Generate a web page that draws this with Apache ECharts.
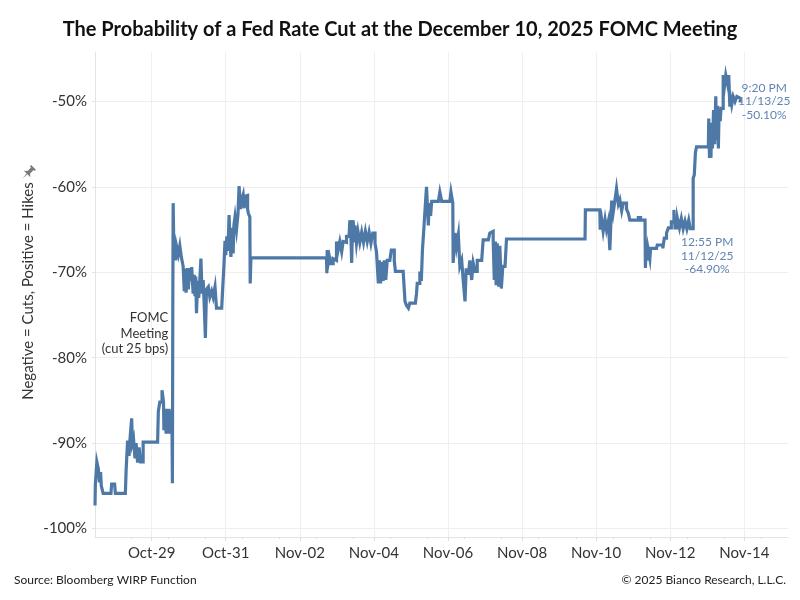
<!DOCTYPE html>
<html><head><meta charset="utf-8">
<script src="https://cdn.jsdelivr.net/npm/echarts@6.0.0/dist/echarts.min.js"></script>
<style>html,body{margin:0;padding:0;background:#fff}#chart{width:800px;height:600px}</style>
</head><body><div id="chart"></div>
<script>
// x = day number counted from Oct 1 (Oct 29 = 29, Nov 1 = 32, Nov 14 = 45), fractional part = time of day
// y = implied probability (%) of a cut at the Dec 10, 2025 FOMC (negative = cuts)
const preFomc = [
  [27.47,-97.3],[27.48,-94.8],[27.51,-94.8],[27.52,-92.2],[27.56,-93.0],[27.59,-94.6],[27.62,-93.4],[27.64,-95.0],
  [27.69,-95.9],[27.90,-95.9],[27.92,-94.8],[28.00,-94.8],[28.02,-95.9],[28.29,-95.9],[28.31,-93.2],[28.35,-89.7],
  [28.39,-91.5],[28.41,-89.8],[28.46,-87.1],[28.48,-90.0],[28.51,-89.5],[28.55,-91.8],[28.58,-90.0],[28.62,-92.3],
  [28.66,-90.5],[28.70,-92.2],[28.77,-89.9],[29.16,-89.9],[29.18,-86.3],[29.22,-85.2],[29.28,-83.8],[29.32,-85.2],
  [29.33,-88.5],[29.36,-86.0],[29.39,-88.9],[29.41,-86.0],[29.44,-88.9],[29.47,-86.0],[29.49,-88.9],[29.52,-86.2],
  [29.55,-89.0],[29.56,-94.7],[29.57,-75.0],[29.58,-61.9]
];
const postFomc = [
  [29.60,-67.5],[29.62,-66.8],[29.65,-68.6],[29.67,-66.9],[29.72,-67.9],[29.76,-66.9],[29.80,-68.2],[29.85,-69.3],
  [29.88,-72.2],[29.90,-69.6],[29.93,-72.4],[29.96,-69.5],[29.99,-72.0],[30.03,-69.5],[30.06,-71.0],[30.08,-69.4],
  [30.12,-72.5],[30.15,-70.3],[30.17,-72.8],[30.19,-70.5],[30.21,-74.8],[30.24,-71.0],[30.27,-73.0],[30.30,-70.9],
  [30.33,-68.4],[30.36,-72.5],[30.39,-70.9],[30.42,-74.0],[30.45,-77.7],[30.48,-72.0],[30.53,-71.7],[30.57,-72.9],
  [30.62,-72.2],[30.66,-72.9],[30.71,-71.7],[30.75,-74.2],[30.89,-74.2],[30.92,-71.7],[30.95,-69.3],[30.98,-66.3],
  [31.00,-68.0],[31.03,-65.8],[31.06,-67.5],[31.09,-63.3],[31.11,-66.0],[31.14,-68.2],[31.16,-64.8],[31.20,-67.8],
  [31.22,-64.5],[31.25,-63.5],[31.29,-65.0],[31.33,-63.2],[31.36,-59.9],[31.40,-62.6],[31.43,-61.5],[31.47,-60.9],
  [31.50,-62.5],[31.52,-61.1],[31.56,-61.0],[31.59,-62.6],[31.61,-63.1],[31.65,-63.5],[31.66,-71.3],[31.68,-68.3]
];
const nov03to07 = [
  [33.72,-68.3],[33.73,-70.1],[33.74,-67.4],[33.77,-68.9],[33.80,-68.2],[33.84,-69.0],[33.90,-68.4],[33.95,-68.6],
  [33.99,-66.4],[34.03,-67.5],[34.08,-66.4],[34.13,-67.6],[34.17,-66.4],[34.22,-66.5],[34.26,-65.8],[34.33,-65.8],
  [34.35,-63.9],[34.38,-66.0],[34.40,-68.9],[34.42,-65.0],[34.44,-63.9],[34.47,-66.5],[34.49,-64.5],[34.53,-66.6],
  [34.57,-65.2],[34.62,-66.5],[34.67,-65.3],[34.72,-66.5],[34.77,-65.2],[34.82,-66.4],[34.87,-65.3],[34.92,-66.6],
  [34.97,-65.4],[35.03,-66.6],[35.07,-67.6],[35.12,-71.3],[35.15,-68.6],[35.18,-71.3],[35.21,-68.8],[35.25,-71.0],
  [35.28,-68.6],[35.32,-70.9],[35.36,-68.6],[35.43,-68.6],[35.47,-67.4],[35.52,-67.4],[35.55,-68.6],[35.58,-69.9],
  [35.79,-69.9],[35.84,-73.4],[35.88,-73.9],[35.93,-74.2],[35.97,-73.6],[36.12,-73.6],[36.15,-72.5],[36.17,-71.3],
  [36.24,-69.9],[36.28,-71.0],[36.31,-67.4],[36.35,-64.8],[36.38,-62.7],[36.42,-60.0],[36.47,-64.5],[36.49,-61.9],
  [36.53,-63.4],[36.56,-61.7],[36.74,-61.7],[36.78,-60.6],[36.83,-61.7],[37.05,-61.7],[37.08,-60.6],[37.13,-61.9],
  [37.14,-68.9],[37.19,-65.4],[37.23,-67.0],[37.28,-65.6],[37.32,-69.3],[37.37,-68.6],[37.41,-70.9],[37.46,-73.4],
  [37.49,-69.7],[37.55,-70.3],[37.59,-68.6],[37.64,-70.9],[37.68,-68.9],[37.73,-69.9],[37.79,-68.6],[37.91,-68.6],
  [37.95,-66.2],[38.09,-66.2],[38.13,-65.4],[38.18,-65.2],[38.22,-66.2],[38.25,-70.9],[38.28,-66.4],[38.30,-71.5],
  [38.33,-66.6],[38.37,-71.7],[38.40,-66.9],[38.44,-71.9],[38.48,-69.3],[38.54,-69.3],[38.58,-66.1]
];
const nov10to13 = [
  [40.70,-66.1],[40.71,-62.7],[41.10,-62.7],[41.11,-65.0],[41.15,-63.9],[41.19,-65.2],[41.24,-63.8],[41.28,-65.0],
  [41.33,-64.0],[41.37,-67.4],[41.42,-61.6],[41.46,-63.0],[41.51,-61.5],[41.55,-60.2],[41.60,-62.0],[41.64,-61.5],
  [41.69,-62.8],[41.73,-61.9],[41.82,-62.6],[41.87,-63.1],[41.91,-63.9],[42.14,-63.6],[42.20,-63.9],[42.32,-63.9],
  [42.33,-69.5],[42.35,-67.2],[42.38,-68.6],[42.40,-67.2],[42.45,-68.4],[42.47,-67.2],[42.63,-67.2],[42.65,-66.8],
  [42.80,-67.2],[42.84,-66.0],[42.90,-65.4],[42.95,-64.8],[43.03,-64.1],[43.10,-62.7],[43.13,-64.8],[43.20,-63.8],
  [43.25,-64.8],[43.30,-63.7],[43.35,-64.9],[43.40,-64.0],[43.45,-64.9],[43.50,-63.9],[43.54,-64.9],[43.62,-59.0],
  [43.65,-58.6],[43.68,-56.0],[43.71,-55.3],[44.03,-55.3],[44.04,-52.0],[44.06,-56.6],[44.08,-53.0],[44.10,-56.6],
  [44.12,-52.5],[44.14,-55.5],[44.17,-51.0],[44.20,-55.0],[44.23,-49.4],[44.25,-54.5],[44.28,-50.5],[44.30,-55.5],
  [44.32,-51.0],[44.35,-52.3],[44.37,-50.8],[44.43,-46.9],[44.47,-48.0],[44.50,-46.9],[44.55,-48.0],[44.58,-46.9],
  [44.61,-50.6],[44.63,-49.6],[44.66,-50.4],[44.70,-49.4],[44.75,-50.0],[44.80,-49.4],[44.85,-49.6],[44.89,-50.1]
];
const tickDays = [29,31,33,35,37,39,41,43,45];
const tickLabels = ['Oct-29','Oct-31','Nov-02','Nov-04','Nov-06','Nov-08','Nov-10','Nov-12','Nov-14'];
const minorTickDays = [28.45,29.45,30.45,31.45,32.45,33.45,34.45,35.45,36.45,37.45,38.45,39.45,40.45,41.45,42.45,43.45,44.45,45.45];
const yTicks = [-100,-90,-80,-70,-60,-50];
const annotations = [
  {coord:[29.58,-77.2], text:['FOMC','Meeting','(cut 25 bps)']},
  {coord:[44.89,-50.1], text:['9:20 PM','11/13/25','-50.10%']},
  {coord:[43.54,-64.9], text:['12:55 PM','11/12/25','-64.90%']}
];
const titleText = 'The Probability of a Fed Rate Cut at the December 10, 2025 FOMC Meeting';
const yName = 'Negative = Cuts, Positive = Hikes';
const sourceText = 'Source: Bloomberg WIRP Function';
const copyText = '\u00A9 2025 Bianco Research, L.L.C.';

const FONT = 'Lato, "Noto Sans", sans-serif';
const series = [].concat(preFomc, postFomc, nov03to07, nov10to13);
const annStyles = [
  {position:'inside', align:'right', verticalAlign:'middle', offset:[-5,0], color:'#333', fontSize:13, lineHeight:15.5},
  {position:'inside', align:'center', verticalAlign:'middle', offset:[24,-1], color:'#5f84b4', fontSize:12, lineHeight:13.5},
  {position:'inside', align:'center', verticalAlign:'middle', offset:[17,27], color:'#5f84b4', fontSize:12, lineHeight:13.7}
];
const pinPoints = [[-2.6,-6],[2.6,-6],[2.6,-4.7],[1.4,-4.7],[1.4,-0.9],[3.5,1],[0.45,1],[0,6],[-0.45,1],[-3.5,1],[-1.4,-0.9],[-1.4,-4.7],[-2.6,-4.7]];
const chart = echarts.init(document.getElementById('chart'));
const axisMin = 27.47, axisMax = 46.18;
chart.setOption({
  animation:false,
  backgroundColor:'#fff',
  title:{text:titleText, left:'center', top:20, padding:0,
    textStyle:{fontFamily:FONT, fontWeight:'bold', fontSize:20, color:'#111'}},
  grid:{left:95, right:12, top:52, bottom:63},
  xAxis:[{
    type:'value', min:axisMin, max:axisMax, position:'bottom',
    axisLine:{show:true, onZero:false, lineStyle:{color:'#e3e3e3'}},
    axisTick:{show:true, customValues:tickDays, length:4, lineStyle:{color:'#dcdcdc'}},
    axisLabel:{customValues:tickDays, margin:9, fontFamily:FONT, fontSize:15, color:'#333',
      formatter:v => tickLabels[tickDays.indexOf(Math.round(v))]},
    splitLine:{show:true, lineStyle:{color:'#efefef', width:1}}
  },{
    type:'value', min:axisMin, max:axisMax, position:'bottom', gridIndex:0,
    axisLine:{show:false, onZero:false},
    axisTick:{show:true, customValues:minorTickDays, length:2, lineStyle:{color:'#dcdcdc'}},
    axisLabel:{show:false}, splitLine:{show:false}
  }],
  yAxis:{
    type:'value', min:-101, max:-44.2,
    axisLine:{show:true, lineStyle:{color:'#e3e3e3'}},
    axisTick:{show:true, customValues:yTicks, length:3, lineStyle:{color:'#e3e3e3'}},
    axisLabel:{customValues:yTicks, margin:8, fontFamily:FONT, fontSize:15, color:'#333', formatter:v => v + '%'},
    splitLine:{show:true, lineStyle:{color:'#efefef', width:1}}
  },
  series:[{
    type:'line', data:series, step:'end', showSymbol:false, xAxisIndex:0,
    lineStyle:{color:'#4e79a7', width:3.2, join:'miter'},
    itemStyle:{color:'#4e79a7'},
    markPoint:{
      symbol:'circle', symbolSize:1, itemStyle:{color:'rgba(0,0,0,0)'}, silent:true,
      data:annotations.map((a,i) => ({coord:a.coord,
        label:Object.assign({show:true, fontFamily:FONT, formatter:a.text.join('\n')}, annStyles[i])}))
    }
  }],
  graphic:[
    {type:'text', x:28, y:291, rotation:Math.PI/2,
      style:{text:yName, font:'15px ' + FONT, fill:'#333', align:'center', verticalAlign:'middle'}},
    {type:'group', x:28, y:173, rotation:-Math.PI/4, scaleX:1.3, scaleY:1.3, children:[
      {type:'polygon', shape:{points:pinPoints}, style:{fill:'#7a7a7a'}}
    ]},
    {type:'text', left:14, top:574, style:{text:sourceText, font:'12px ' + FONT, fill:'#222'}},
    {type:'text', right:14, top:574, style:{text:copyText, font:'12px ' + FONT, fill:'#222'}}
  ]
});
</script></body></html>
